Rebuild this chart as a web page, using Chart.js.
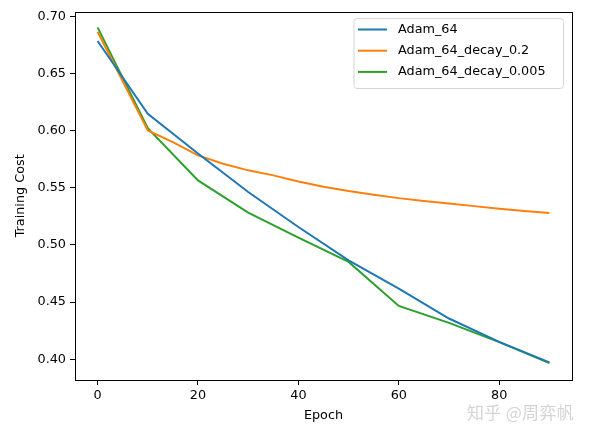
<!DOCTYPE html>
<html>
<head>
<meta charset="utf-8">
<script src="https://cdn.jsdelivr.net/npm/chart.js@4/dist/chart.umd.min.js"></script>
<style>
  html, body { margin: 0; padding: 0; background: #fff; }
  #wrap { position: relative; width: 593px; height: 435px; }
  #mark {
    position: absolute; left: 467px; top: 399px;
    font-family: "Noto Sans CJK SC", sans-serif; font-size: 17px;
    color: #d4d4d4; letter-spacing: 0.3px; white-space: nowrap;
  }
</style>
</head>
<body>
<div id="wrap">
  <canvas id="chart" width="593" height="435"></canvas>
  <div id="mark">知乎 @周弈帆</div>
</div>
<script>
const epochs = [0, 10, 20, 30, 40, 50, 60, 70, 80, 90];
const adam64 = [0.6785, 0.6148, 0.5801, 0.5463, 0.5157, 0.4866, 0.4619, 0.4357, 0.4153, 0.3973];
const decay005 = [0.6904, 0.6022, 0.5565, 0.5283, 0.5065, 0.4852, 0.4467, 0.4319, 0.4150, 0.3967];

const orangeEpochs = [0, 10, 15, 20, 25, 30, 35, 40, 45, 50, 55, 60, 65, 70, 75, 80, 85, 90];
const decay02 = [0.6866, 0.6002, 0.5900, 0.5784, 0.5711, 0.5653, 0.5609, 0.5555, 0.5510, 0.5472, 0.5440, 0.5410, 0.5385, 0.5362, 0.5340, 0.5318, 0.5298, 0.5279];

const labels = ["Adam_64", "Adam_64_decay_0.2", "Adam_64_decay_0.005"];
const colors = ["#1f77b4", "#ff7f0e", "#2ca02c"];

const xTicks = [0, 20, 40, 60, 80];
const yTicks = [0.40, 0.45, 0.50, 0.55, 0.60, 0.65, 0.70];

const FONT = "'DejaVu Sans', sans-serif";
const pts = (xs, ys) => xs.map((x, i) => ({ x, y: ys[i] }));

// spines on all four sides + matplotlib-like legend box
const frame = {
  id: "frame",
  afterDatasetsDraw(chart) {
    const { ctx, chartArea: a } = chart;
    ctx.save();
    ctx.strokeStyle = "#000";
    ctx.lineWidth = 1;
    ctx.strokeRect(Math.round(a.left) + 0.5, Math.round(a.top) + 0.5, Math.round(a.right - a.left), Math.round(a.bottom - a.top));

    const bx = 354, by = 18.5, bw = 209.5, bh = 70;
    ctx.beginPath();
    ctx.roundRect(bx, by, bw, bh, 3);
    ctx.fillStyle = "rgba(255,255,255,0.8)";
    ctx.fill();
    ctx.strokeStyle = "#d6d6d6";
    ctx.stroke();

    ctx.font = "12.8px " + FONT;
    ctx.textBaseline = "middle";
    ctx.textAlign = "left";
    chart.data.datasets.forEach((ds, i) => {
      const y = 29.5 + i * 21.2;
      ctx.strokeStyle = ds.borderColor;
      ctx.lineWidth = 2;
      ctx.beginPath();
      ctx.moveTo(358, y);
      ctx.lineTo(387, y);
      ctx.stroke();
      ctx.fillStyle = "#000";
      ctx.fillText(ds.label, 398, y);
    });
    ctx.restore();
  }
};

new Chart(document.getElementById("chart"), {
  type: "line",
  data: {
    datasets: [
      { label: labels[0], data: pts(epochs, adam64), borderColor: colors[0] },
      { label: labels[1], data: pts(orangeEpochs, decay02), borderColor: colors[1] },
      { label: labels[2], data: pts(epochs, decay005), borderColor: colors[2] }
    ]
  },
  options: {
    responsive: false,
    animation: false,
    layout: { padding: { top: 11, right: 21, left: 0, bottom: 0 } },
    elements: {
      point: { radius: 0 },
      line: { borderWidth: 2, tension: 0, fill: false }
    },
    plugins: { legend: { display: false }, tooltip: { enabled: false } },
    scales: {
      x: {
        type: "linear",
        min: -4.5,
        max: 94.5,
        afterBuildTicks: scale => { scale.ticks = xTicks.map(value => ({ value })); },
        afterFit: scale => { scale.height = 55; },
        border: { display: false },
        grid: { drawOnChartArea: false, tickLength: 5, color: "#000", tickWidth: 1 },
        ticks: { color: "#000", font: { family: FONT, size: 12.8 }, padding: 3, maxRotation: 0 },
        title: { display: true, text: "Epoch", color: "#000", font: { family: FONT, size: 12.8 }, padding: { top: 0, bottom: 12 } }
      },
      y: {
        min: 0.3819,
        max: 0.7041,
        afterBuildTicks: scale => { scale.ticks = yTicks.map(value => ({ value })); },
        afterFit: scale => { scale.width = 75; },
        border: { display: false },
        grid: { drawOnChartArea: false, tickLength: 5, color: "#000", tickWidth: 1 },
        ticks: { color: "#000", font: { family: FONT, size: 12.8 }, padding: 4, callback: v => v.toFixed(2) },
        title: { display: true, text: "Training Cost", color: "#000", font: { family: FONT, size: 12.8 }, padding: { top: 13, bottom: 0 } }
      }
    }
  },
  plugins: [frame]
});
</script>
</body>
</html>
